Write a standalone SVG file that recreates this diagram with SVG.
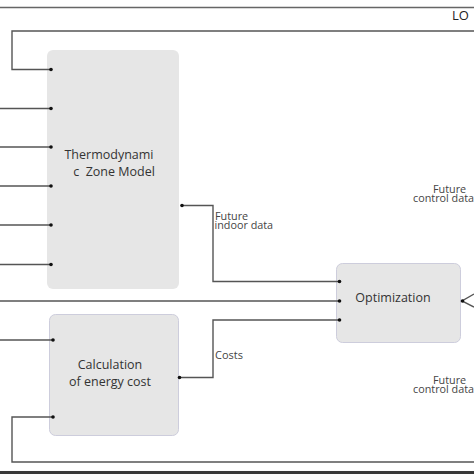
<svg xmlns="http://www.w3.org/2000/svg" width="474" height="474" viewBox="0 0 474 474">
<style>
.box{fill:#e6e6e6}
.boxs{fill:#e6e6e6;stroke:#cdcddc;stroke-width:1}
.ln{fill:none;stroke:#555;stroke-width:1.4}
.dot{fill:#111}
.t{font-family:"Open Sans","Liberation Sans",sans-serif;fill:#333;font-size:12.5px;text-anchor:middle}
.s{font-family:"Open Sans","Liberation Sans",sans-serif;fill:#444;font-size:10.8px}
</style>
<rect width="474" height="474" fill="#fff"/>
<line x1="0" y1="7.5" x2="474" y2="7.5" stroke="#666" stroke-width="1.5"/>
<text x="452" y="20" class="t" style="text-anchor:start;font-size:13px;fill:#222">LO</text>
<rect x="0" y="471" width="474" height="3" fill="#3a3a3a"/>
<g id="thermo">
<rect class="box" x="47" y="50" width="132" height="239" rx="6"/>
<text class="t" x="109" y="159">Thermodynami</text>
<text class="t" x="114" y="176">c&#160;&#160;Zone Model</text>
</g>
<g id="calc">
<rect class="boxs" x="49.5" y="314.5" width="129" height="121" rx="6"/>
<text class="t" x="110" y="369">Calculation</text>
<text class="t" x="110" y="386">of energy cost</text>
</g>
<g id="opt">
<rect class="boxs" x="336.5" y="263.5" width="124" height="79" rx="6"/>
<text class="t" x="393" y="302">Optimization</text>
</g>
<g id="connectors">
<polyline class="ln" points="474,31 12,31 12,69.5 50,69.5"/>
<line class="ln" x1="0" y1="108.5" x2="50" y2="108.5"/>
<line class="ln" x1="0" y1="147" x2="50" y2="147"/>
<line class="ln" x1="0" y1="186" x2="50" y2="186"/>
<line class="ln" x1="0" y1="225" x2="50" y2="225"/>
<line class="ln" x1="0" y1="264.5" x2="50" y2="264.5"/>
<polyline class="ln" points="182,205.5 213,205.5 213,281.5 339,281.5"/>
<line class="ln" x1="0" y1="301" x2="339" y2="301"/>
<polyline class="ln" points="179,377.5 213,377.5 213,320 339,320"/>
<line class="ln" x1="0" y1="340" x2="53" y2="340"/>
<polyline class="ln" points="53,417 12,417 12,462 474,462"/>
<polyline class="ln" points="474,294 462,301 474,307"/>
<circle class="dot" cx="51" cy="69.5" r="1.8"/>
<circle class="dot" cx="51" cy="108.5" r="1.8"/>
<circle class="dot" cx="51" cy="147" r="1.8"/>
<circle class="dot" cx="51" cy="186" r="1.8"/>
<circle class="dot" cx="51" cy="225" r="1.8"/>
<circle class="dot" cx="51" cy="264.5" r="1.8"/>
<circle class="dot" cx="182" cy="205.5" r="1.8"/>
<circle class="dot" cx="339.5" cy="281.5" r="1.8"/>
<circle class="dot" cx="339.5" cy="301" r="1.8"/>
<circle class="dot" cx="339.5" cy="320" r="1.8"/>
<circle class="dot" cx="53" cy="340" r="1.8"/>
<circle class="dot" cx="53" cy="417" r="1.8"/>
<circle class="dot" cx="179.5" cy="377.5" r="1.8"/>
<circle class="dot" cx="462.5" cy="301" r="1.8"/>
<text class="s" x="215" y="220">Future</text>
<text class="s" x="214.5" y="229">indoor data</text>
<text class="s" x="215" y="359" style="font-size:11px">Costs</text>
<text class="s" x="433" y="193">Future</text>
<text class="s" x="413" y="202">control data</text>
<text class="s" x="433" y="384">Future</text>
<text class="s" x="413" y="393">control data</text>
</g>
</svg>
